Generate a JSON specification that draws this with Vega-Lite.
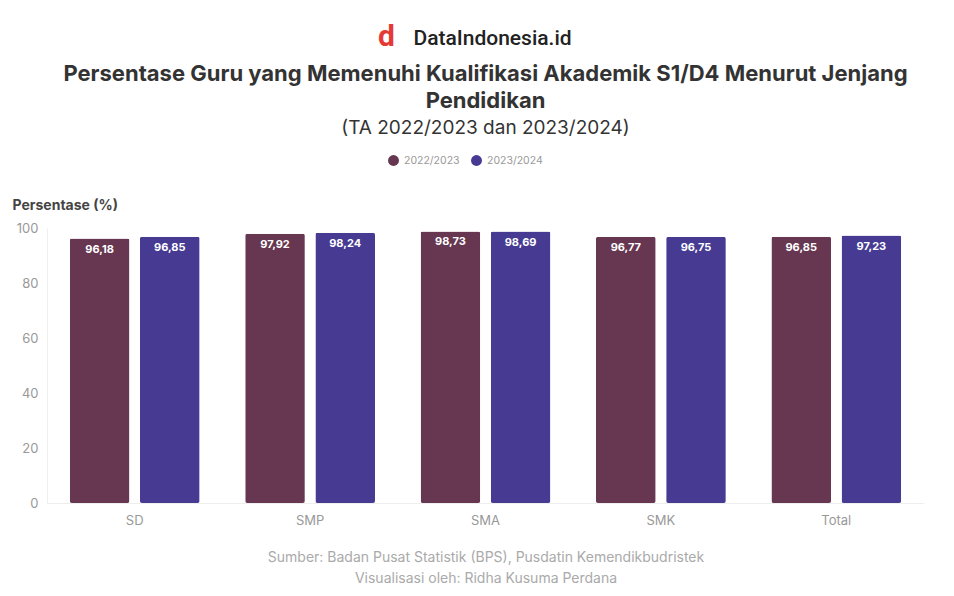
{
  "$schema": "https://vega.github.io/schema/vega-lite/v6.json",
  "padding": {"left": 12, "top": 22, "right": 10, "bottom": 5},
  "background": "white",
  "config": {
    "view": {"stroke": null},
    "font": "Inter",
    "locale": {"number": {"decimal": ",", "thousands": ".", "grouping": [3], "currency": ["Rp", ""]}}
  },
  "datasets": {
    "guru": [
      {"Jenjang": "SD", "Tahun": "2022/2023", "Persen": 96.18},
      {"Jenjang": "SD", "Tahun": "2023/2024", "Persen": 96.85},
      {"Jenjang": "SMP", "Tahun": "2022/2023", "Persen": 97.92},
      {"Jenjang": "SMP", "Tahun": "2023/2024", "Persen": 98.24},
      {"Jenjang": "SMA", "Tahun": "2022/2023", "Persen": 98.73},
      {"Jenjang": "SMA", "Tahun": "2023/2024", "Persen": 98.69},
      {"Jenjang": "SMK", "Tahun": "2022/2023", "Persen": 96.77},
      {"Jenjang": "SMK", "Tahun": "2023/2024", "Persen": 96.75},
      {"Jenjang": "Total", "Tahun": "2022/2023", "Persen": 96.85},
      {"Jenjang": "Total", "Tahun": "2023/2024", "Persen": 97.23}
    ],
    "logo": [{"nama": "DataIndonesia.id", "ikon": "d"}]
  },
  "spacing": 10,
  "resolve": {"scale": {"color": "independent"}, "legend": {"color": "independent"}},
  "vconcat": [
    {
      "width": 877,
      "height": 24,
      "data": {"name": "logo"},
      "layer": [
        {
          "mark": {"type": "text", "font": "Roboto", "fontSize": 30, "fontWeight": "bold", "color": "#e53935", "dx": -99, "dy": -4},
          "encoding": {"text": {"field": "ikon"}}
        },
        {
          "mark": {"type": "text", "font": "Roboto", "fontSize": 21, "fontWeight": 500, "color": "#222222", "dx": 7, "dy": -2},
          "encoding": {"text": {"field": "nama"}}
        }
      ]
    },
    {
      "width": 877,
      "height": 275,
      "data": {"name": "guru"},
      "title": {
        "text": ["Persentase Guru yang Memenuhi Kualifikasi Akademik S1/D4 Menurut Jenjang", "Pendidikan"],
        "subtitle": "(TA 2022/2023 dan 2023/2024)",
        "fontSize": 22,
        "fontWeight": "bold",
        "color": "#333333",
        "lineHeight": 27,
        "subtitleFontSize": 19,
        "subtitleColor": "#333333",
        "subtitlePadding": 6,
        "anchor": "middle",
        "offset": 15
      },
      "encoding": {
        "x": {
          "field": "Jenjang",
          "type": "nominal",
          "sort": ["SD", "SMP", "SMA", "SMK", "Total"],
          "scale": {"paddingInner": 0.26, "paddingOuter": 0.13},
          "axis": {
            "labelAngle": 0,
            "labelColor": "#999999",
            "labelFontSize": 13,
            "labelPadding": 11,
            "ticks": false,
            "domainColor": "#eeeeee",
            "title": ["Sumber: Badan Pusat Statistik (BPS), Pusdatin Kemendikbudristek", "Visualisasi oleh: Ridha Kusuma Perdana"],
            "titleColor": "#aaaaaa",
            "titleFontWeight": "normal",
            "titleFontSize": 14,
            "titleLineHeight": 21,
            "titlePadding": 23
          }
        },
        "xOffset": {
          "field": "Tahun",
          "type": "nominal",
          "scale": {"paddingInner": 0.15}
        },
        "y": {
          "field": "Persen",
          "type": "quantitative",
          "scale": {"domain": [0, 100]},
          "axis": {
            "tickCount": 5,
            "grid": false,
            "ticks": false,
            "domainColor": "#eeeeee",
            "labelColor": "#999999",
            "labelFontSize": 13,
            "labelPadding": 9,
            "title": "Persentase (%)",
            "titleAngle": 0,
            "titleAlign": "left",
            "titleBaseline": "bottom",
            "titleX": -35,
            "titleY": -16,
            "titleColor": "#444444",
            "titleFontSize": 14,
            "titleFontWeight": "bold"
          }
        }
      },
      "layer": [
        {
          "mark": {"type": "bar", "cornerRadius": 2},
          "encoding": {
            "color": {
              "field": "Tahun",
              "type": "nominal",
              "scale": {"domain": ["2022/2023", "2023/2024"], "range": ["#673650", "#463a92"]},
              "legend": {
                "orient": "none",
                "legendX": 340,
                "legendY": -74,
                "direction": "horizontal",
                "title": null,
                "symbolType": "circle",
                "symbolSize": 120,
                "symbolFillColor": null,
                "labelFontSize": 10.5,
                "labelColor": "#999999",
                "columnPadding": 10
              }
            }
          }
        },
        {
          "mark": {"type": "text", "baseline": "top", "dy": 5, "color": "white", "fontSize": 11, "fontWeight": "bold"},
          "encoding": {"text": {"field": "Persen", "type": "quantitative", "format": ".2f"}}
        }
      ]
    }
  ]
}
